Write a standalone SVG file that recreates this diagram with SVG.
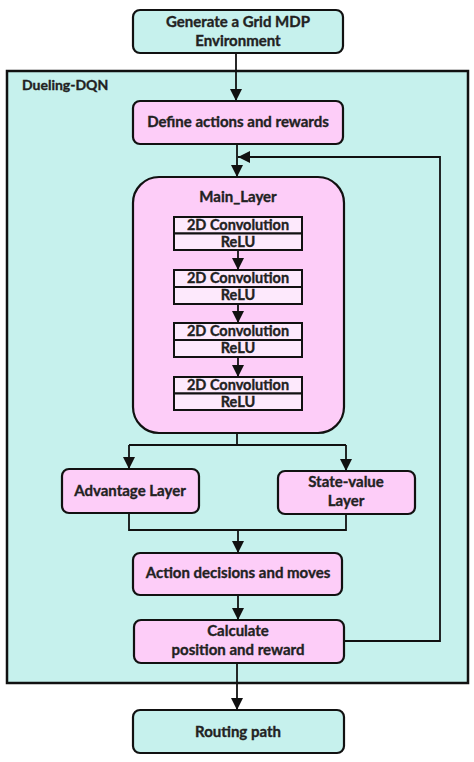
<svg xmlns="http://www.w3.org/2000/svg" width="474" height="762" viewBox="0 0 474 762">
<style>
.cy{fill:#c6f1ed;stroke:#111;stroke-width:2.2}
.pk{fill:#fdcdf8;stroke:#111;stroke-width:2.2}
.cv{fill:#fde9fc;stroke:#111;stroke-width:2}
.t{font-family:Lato,"Open Sans","Liberation Sans",sans-serif;font-weight:bold;font-size:15px;fill:#222;stroke:#222;stroke-width:0.35;text-anchor:middle}
.s{font-size:14.5px}
.ln{fill:none;stroke:#111;stroke-width:1.8}
</style>
<defs>
<marker id="ah" markerUnits="userSpaceOnUse" markerWidth="12" markerHeight="12" viewBox="0 0 12 12" refX="12" refY="6" orient="auto">
<path d="M0,0 L12,6 L0,12 Z" fill="#111"/>
</marker>
</defs>
<rect x="0" y="0" width="474" height="762" fill="#fff"/>
<g id="dueling-dqn">
<rect x="7" y="71" width="461" height="612" fill="#c6f1ed" stroke="#111" stroke-width="2.5"/>
<text class="t" x="22" y="90" style="text-anchor:start;font-size:14px">Dueling-DQN</text>
</g>
<g id="generate">
<rect class="cy" x="133" y="10" width="210" height="43" rx="7"/>
<text class="t" x="238" y="27">Generate a Grid MDP</text>
<text class="t" x="238" y="46">Environment</text>
</g>
<g id="define">
<rect class="pk" x="133" y="101" width="210" height="43" rx="7"/>
<text class="t" x="238" y="127">Define actions and rewards</text>
</g>
<g id="main-layer">
<rect class="pk" x="133" y="177" width="211" height="256" rx="26"/>
<text class="t" x="238" y="202">Main_Layer</text>
</g>
<g id="conv1">
<rect class="cv" x="174" y="217" width="128" height="16.5"/>
<rect class="cv" x="174" y="233.5" width="128" height="16.5"/>
<text class="t s" x="238" y="230">2D Convolution</text>
<text class="t s" x="238" y="247">ReLU</text>
</g>
<g id="conv2">
<rect class="cv" x="174" y="270" width="128" height="17"/>
<rect class="cv" x="174" y="287" width="128" height="17"/>
<text class="t s" x="238" y="283">2D Convolution</text>
<text class="t s" x="238" y="300">ReLU</text>
</g>
<g id="conv3">
<rect class="cv" x="174" y="323" width="128" height="17"/>
<rect class="cv" x="174" y="340" width="128" height="17"/>
<text class="t s" x="238" y="336">2D Convolution</text>
<text class="t s" x="238" y="353">ReLU</text>
</g>
<g id="conv4">
<rect class="cv" x="174" y="377" width="128" height="16.5"/>
<rect class="cv" x="174" y="393.5" width="128" height="16.5"/>
<text class="t s" x="238" y="390">2D Convolution</text>
<text class="t s" x="238" y="407">ReLU</text>
</g>
<g id="advantage">
<rect class="pk" x="62" y="469" width="137" height="44" rx="7"/>
<text class="t" x="130" y="496">Advantage Layer</text>
</g>
<g id="state-value">
<rect class="pk" x="278" y="471" width="137" height="43" rx="7"/>
<text class="t" x="346" y="487">State-value</text>
<text class="t" x="346" y="506">Layer</text>
</g>
<g id="action">
<rect class="pk" x="133" y="553" width="209" height="42" rx="7"/>
<text class="t" x="238" y="578">Action decisions and moves</text>
</g>
<g id="calculate">
<rect class="pk" x="134" y="620" width="210" height="43" rx="7"/>
<text class="t" x="238" y="636">Calculate</text>
<text class="t" x="238" y="655">position and reward</text>
</g>
<g id="routing">
<rect class="cy" x="133" y="710" width="211" height="43" rx="7"/>
<text class="t" x="238" y="737">Routing path</text>
</g>
<g id="connectors">
<path class="ln" d="M236,53 V101" marker-end="url(#ah)"/>
<path class="ln" d="M237,144 V177" marker-end="url(#ah)"/>
<path class="ln" d="M344,641 H440 V157 H238" marker-end="url(#ah)"/>
<path class="ln" d="M238,251 V270" marker-end="url(#ah)"/>
<path class="ln" d="M238,305 V323" marker-end="url(#ah)"/>
<path class="ln" d="M238,358 V377" marker-end="url(#ah)"/>
<path class="ln" d="M237,434 V445"/>
<path class="ln" d="M129,445 H346"/>
<path class="ln" d="M129,445 V469" marker-end="url(#ah)"/>
<path class="ln" d="M346,445 V471" marker-end="url(#ah)"/>
<path class="ln" d="M129,514 V530 H346 V515"/>
<path class="ln" d="M238,530 V553" marker-end="url(#ah)"/>
<path class="ln" d="M238,596 V620" marker-end="url(#ah)"/>
<path class="ln" d="M237,664 V710" marker-end="url(#ah)"/>
</g>
</svg>
